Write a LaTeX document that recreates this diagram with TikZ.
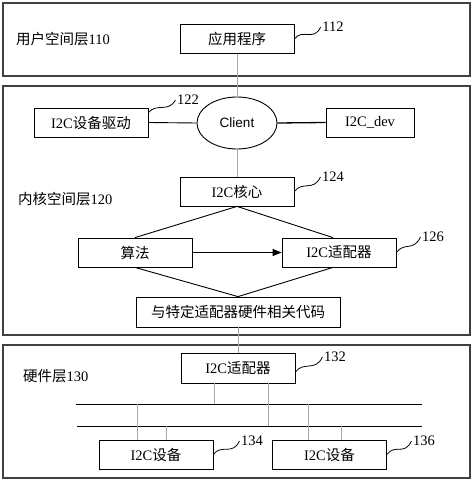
\documentclass[tikz,border=0pt]{standalone}
\usepackage{fontspec}
\setmainfont{Liberation Serif}
\setsansfont{Liberation Sans}
\newfontfamily\cjk{Noto Sans CJK SC}
\usetikzlibrary{shapes.geometric,arrows.meta}
\tikzset{
    layer-box/.style = {draw=black!75, line width=1.3pt},
    layer-title/.style = {anchor=west, inner sep=0pt, font=\fontsize{14.5}{17}\selectfont},
    item-box/.style = {draw=black, line width=0.8pt, rectangle, minimum width=114pt, minimum height=29pt, inner sep=0pt, font=\fontsize{14.5}{17}\selectfont},
    tag-label/.style = {inner sep=1.5pt, font=\fontsize{14.5}{17}\selectfont},
    tag-line/.style = {draw=black, line width=0.8pt},
    link/.style = {draw=black, line width=0.9pt},
    tap/.style = {draw=black!35, line width=0.9pt},
}

\begin{document}
\begin{tikzpicture}[x=1pt,y=-1pt]
\useasboundingbox (0,0) rectangle (474,481);
% layers
\draw[layer-box] (3,3) rectangle (470,76);
\draw[layer-box] (3,86) rectangle (470,335);
\draw[layer-box] (3,345) rectangle (470,478);
\node[layer-title] (user) at (16,39) {{\cjk 用户空间层}110};
\node[layer-title] (kernel) at (18,199) {{\cjk 内核空间层}120};
\node[layer-title] (hw) at (23,376) {{\cjk 硬件层}130};

% user space
\node[item-box] (app) at (237,39) {\cjk 应用程序};
\node[tag-label] (t112) at (333,27) {112};

% kernel space
\node[draw=black, line width=0.9pt, ellipse, minimum width=80pt, minimum height=52pt, inner sep=0pt, font=\sffamily\fontsize{13.5}{15}\selectfont] (client) at (237,123) {Client};
\node[item-box] (drv) at (91,122.5) {I2C{\cjk 设备驱动}};
\node[item-box, minimum width=88pt] (dev) at (370,122.5) {I2C\_dev};
\node[tag-label] (t122) at (188,100) {122};
\node[item-box] (core) at (237,191.5) {I2C{\cjk 核心}};
\node[tag-label] (t124) at (333,177) {124};
\node[item-box] (algo) at (135,252.5) {\cjk 算法};
\node[item-box] (adap) at (339,252.5) {I2C{\cjk 适配器}};
\node[tag-label] (t126) at (433,237) {126};
\node[item-box, minimum width=204pt, minimum height=30pt] (hwcode) at (238,312) {\cjk 与特定适配器硬件相关代码};

% hardware
\node[item-box, minimum height=30pt] (hwadap) at (238,368) {I2C{\cjk 适配器}};
\node[tag-label] (t132) at (335,357) {132};
\node[item-box] (dev1) at (156,454.5) {I2C{\cjk 设备}};
\node[tag-label] (t134) at (252,441) {134};
\node[item-box] (dev2) at (329.5,454.5) {I2C{\cjk 设备}};
\node[tag-label] (t136) at (424,441) {136};
\coordinate (bus-a-l) at (76,404);
\coordinate (bus-a-r) at (422,404);
\coordinate (bus-b-l) at (77,426);
\coordinate (bus-b-r) at (422,426);

% connectors
\draw[tap] (app.south) -- (client.north);
\draw[tap] (client.south) -- (core.north);
\draw[tap] (hwcode.south) -- (hwadap.north);
\draw[link] (drv.east) -- (client.west);
\draw[link, line width=1.3pt] (client.east) -- (dev.west);
\draw[link] (core.south) -- (algo.north);
\draw[link] (core.south) -- ([xshift=-6pt]adap.north);
\draw[link, -{Triangle[length=9pt,width=7pt]}] (algo.east) -- (adap.west);
\draw[link] (algo.south) -- (hwcode.north);
\draw[link] ([xshift=-6pt]adap.south) -- (hwcode.north);
\draw[link] (bus-a-l) -- (bus-a-r);
\draw[link] (bus-b-l) -- (bus-b-r);
\foreach \from/\dx/\bus in {hwadap.south/-24/bus-a-l, hwadap.south/30/bus-b-l, dev1.north/-19/bus-a-l, dev1.north/10/bus-b-l, dev2.north/-21.5/bus-a-l, dev2.north/11.5/bus-b-l}{
    \coordinate (tap-end) at ([xshift=\dx pt]\from);
    \draw[tap] (tap-end) -- (tap-end |- \bus);
}

% leader lines
\draw[tag-line] (app.east) .. controls +(8,-11) and +(-7,15) .. (t112.west);
\draw[tag-line] ([yshift=-5pt]drv.north east) .. controls +(8,-10) and +(-7,13) .. (t122.west);
\draw[tag-line] (core.east) .. controls +(8,-11) and +(-7,15) .. (t124.west);
\draw[tag-line] (adap.east) .. controls +(8,-11) and +(-7,15) .. (t126.west);
\draw[tag-line] ([yshift=-4pt]hwadap.east) .. controls +(8,-11) and +(-7,15) .. (t132.west);
\draw[tag-line] (dev1.east) .. controls +(8,-11) and +(-7,15) .. (t134.west);
\draw[tag-line] (dev2.east) .. controls +(8,-11) and +(-7,15) .. (t136.west);
\end{tikzpicture}
\end{document}
